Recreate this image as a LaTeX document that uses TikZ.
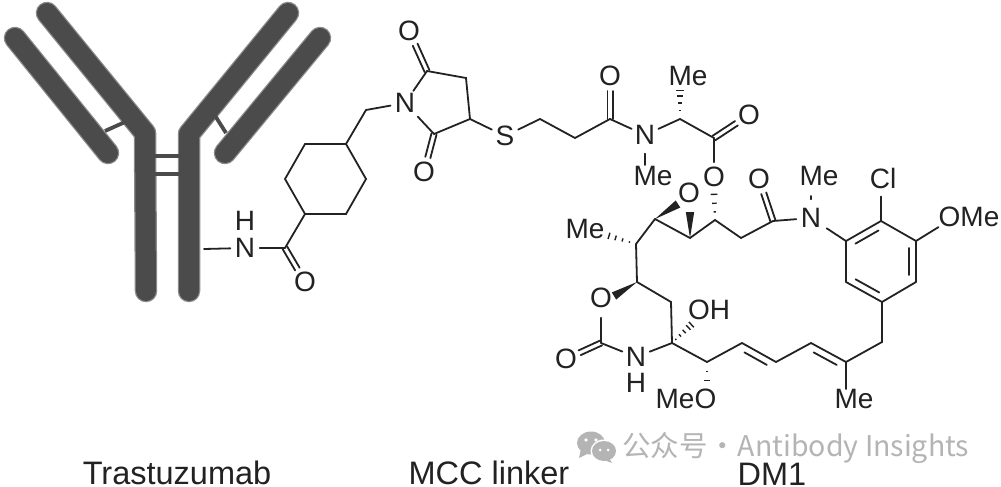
\documentclass[tikz,border=0pt]{standalone}
\usepackage{fontspec}
\setmainfont{Liberation Sans}
\newfontfamily\wmfont{Noto Sans CJK SC}
\usetikzlibrary{calc}
\definecolor{ink}{HTML}{222222}
\definecolor{abody}{HTML}{4B4B4B}
\definecolor{abedge}{HTML}{8C8C8C}
\definecolor{wm}{HTML}{B4B4B4}
\tikzset{
  bond/.style={draw=ink,line width=1.8pt,line cap=round,line join=miter},
  hashline/.style={draw=ink,line width=1.4pt},
  atom/.style={circle,inner sep=0pt,minimum size=29pt,text=ink,font=\fontsize{28}{30}\selectfont},
  lab/.style={inner sep=0pt,text=ink,font=\fontsize{28}{30}\selectfont},
  caption/.style={inner sep=0pt,anchor=base,text=ink,font=\fontsize{32.5}{34}\selectfont},
  abedgeline/.style={draw=abedge,line width=22.5pt,line cap=round,line join=round},
  abline/.style={draw=abody,line width=20pt,line cap=round,line join=round},
  hinge/.style={draw=abody,line width=3.8pt}
}
\newcommand{\dblO}[2]{%
  \draw[bond] ($(#1)!2.6pt!90:(#2)$) -- ($($(#2)!15pt!(#1)$)!2.6pt!-90:(#1)$);
  \draw[bond] ($(#1)!2.6pt!-90:(#2)$) -- ($($(#2)!15pt!(#1)$)!2.6pt!90:(#1)$);}
\newcommand{\dblIn}[4]{%
  \draw[bond] (#1) -- (#2);
  \draw[bond] ($(#1)!.17!(#2)!7pt!#3:(#2)$) -- ($(#2)!.17!(#1)!7pt!#4:(#1)$);}
\newcommand{\hashb}[3]{%
  \foreach \t in {#3} {
    \coordinate (hp) at ($(#1)!\t!(#2)$);
    \draw[hashline] ($(hp)!{\t*3.6pt}!90:(#2)$) -- ($(hp)!{\t*3.6pt}!-90:(#2)$);
  }}
\newcommand{\wedgeb}[2]{%
  \fill[ink] (#1) -- ($(#2)!4.2pt!90:(#1)$) -- ($(#2)!4.2pt!-90:(#1)$) -- cycle;}
\begin{document}
\begin{tikzpicture}[x=1pt,y=-1pt]
\useasboundingbox (0,0) rectangle (1001,487);
\fill[white] (0,0) rectangle (1001,487);

% antibody
\coordinate (loa) at (15,38); \coordinate (lob) at (108,153);
\coordinate (lia) at (47,13); \coordinate (lib) at (145,133); \coordinate (lic) at (146,291);
\coordinate (roa) at (320,38); \coordinate (rob) at (225,153);
\coordinate (ria) at (288,13); \coordinate (rib) at (189,134); \coordinate (ric) at (189,291);
\foreach \st in {abedgeline,abline}{
  \draw[\st] (loa) -- (lob);
  \draw[\st] (lia) -- (lib) -- (lic);
  \draw[\st] (roa) -- (rob);
  \draw[\st] (ria) -- (rib) -- (ric);
}
\coordinate (h1a) at (155,156); \coordinate (h1b) at (180,156);
\coordinate (h2a) at (155,174); \coordinate (h2b) at (180,174);
\coordinate (h3a) at (105,131); \coordinate (h3b) at (125,122);
\coordinate (h4a) at (214,114); \coordinate (h4b) at (226,133);
\draw[hinge] (h1a) -- (h1b);
\draw[hinge] (h2a) -- (h2b);
\draw[hinge] (h3a) -- (h3b);
\draw[hinge] (h4a) -- (h4b);

% carbons
\foreach \n/\p in {
  ab/{204,249}, ca/{285,248}, cy1/{305,214}, cy2/{285,179}, cy3/{305,144}, cy4/{346,144},
  cy5/{366,179}, cy6/{346,214}, mch/{366,110}, sa/{427,71}, sb/{466,78}, sc/{470,119}, sd/{434,134},
  ta/{540,119}, tb/{575,138}, tc/{610,119}, ala/{680,119}, alc/{714,138},
  e1/{655,219}, e2/{690,238}, e3/{715,220}, f1/{741,238}, f2/{773,221},
  g1/{636,244}, g2/{637,282}, g3/{671,302}, g4/{672,343}, g5/{707,362},
  v1/{742,343}, v2/{776,362}, v3/{811,343}, v4/{846,362}, v5/{882,342},
  r1/{882,302}, r2/{916,282}, r3/{916,241}, r4/{881,221}, r5/{846,241}, r6/{846,282},
  u1/{601,343}}{
  \coordinate (\n) at (\p);
}

% labelled atoms
\node[atom] (nha) at (245,248) {N};
\node[lab]  (hha) at (245,221) {H};
\node[atom] (oam) at (305,282) {O};
\node[atom] (nim) at (405,103) {N};
\node[atom] (oim1) at (409,31) {O};
\node[atom] (oim2) at (424,172) {O};
\node[atom] (sul) at (505,136) {S};
\node[atom] (oa2) at (610,76) {O};
\node[atom] (nme) at (645,135) {N};
\node[lab]  (me1) at (653,176) {Me};
\node[lab]  (me2) at (688,76) {Me};
\node[atom] (oe1) at (749,115) {O};
\node[atom] (oe2) at (714,177) {O};
\node[atom] (oep) at (689,193) {O};
\node[atom] (ok) at (759,179) {O};
\node[lab]  (me3) at (585,229) {Me};
\node[atom] (oc) at (601,298) {O};
\node[atom] (ocb) at (566,359) {O};
\node[atom] (ncb) at (636,357) {N};
\node[lab]  (hcb) at (636,383) {H};
\node[lab]  (oh) at (709,310) {OH};
\node[lab]  (meo) at (686,399) {MeO};
\node[lab]  (me4) at (854,399) {Me};
\node[atom] (nar) at (811,218) {N};
\node[lab]  (me5) at (819,176) {Me};
\node[lab]  (cl) at (883,178) {Cl};
\node[lab]  (ome) at (969,217) {OMe};

% bonds: linker
\draw[bond] (ab) -- (nha);
\draw[bond] (nha) -- (ca);
\dblO{ca}{oam}
\draw[bond] (ca) -- (cy1) -- (cy2) -- (cy3) -- (cy4) -- (cy5) -- (cy6) -- (cy1);
\draw[bond] (cy4) -- (mch) -- (nim);
\draw[bond] (nim) -- (sa) -- (sb) -- (sc) -- (sd);
\draw[bond,shorten <=4pt] (nim) -- (sd);
\dblO{sa}{oim1}
\dblO{sd}{oim2}
\draw[bond] (sc) -- (sul);
\draw[bond] (sul) -- (ta) -- (tb) -- (tc);
\dblO{tc}{oa2}
\draw[bond] (tc) -- (nme);
\draw[bond] (nme) -- (ala) -- (alc);
\draw[bond,shorten <=4pt,shorten >=1pt] (nme) -- (me1.north -| nme);
\dblO{alc}{oe1}
\draw[bond] (alc) -- (oe2);
\coordinate (hme2) at (680,90);
\hashb{ala}{hme2}{.3,.55,.8,.98}
\coordinate (hoe) at (714,193);
\hashb{e3}{hoe}{.3,.62,.95}

% bonds: DM1
\draw[bond] (g1) -- (e1) -- (e2) -- (e3) -- (f1) -- (f2);
\coordinate (weo) at (678,204); \coordinate (weo2) at (690,212);
\wedgeb{e1}{weo}
\wedgeb{e2}{weo2}
\dblO{f2}{ok}
\draw[bond] (f2) -- (nar);
\draw[bond,shorten <=4pt] (nar) -- (r5);
\draw[bond,shorten <=4pt,shorten >=10pt] (nar) -- (me5.south -| nar);
\dblIn{r5}{r4}{-90}{90}
\draw[bond] (r4) -- (r3);
\dblIn{r3}{r2}{-90}{90}
\draw[bond] (r2) -- (r1);
\dblIn{r1}{r6}{-90}{90}
\draw[bond] (r6) -- (r5);
\draw[bond,shorten >=8pt] (r4) -- (cl.south -| r4);
\draw[bond] (r3) -- (ome.south west);
\draw[bond] (r1) -- (v5) -- (v4);
\dblIn{v4}{v3}{90}{-90}
\draw[bond] (v3) -- (v2);
\dblIn{v2}{v1}{90}{-90}
\draw[bond] (v1) -- (g5) -- (g4) -- (g3) -- (g2) -- (g1);
\draw[bond] (v4) -- (me4.north -| v4);
\coordinate (hme3) at (606,235);
\hashb{g1}{hme3}{.22,.45,.68,.9}
\coordinate (weo3) at (614,296);
\wedgeb{g2}{weo3}
\coordinate (hoh) at (691,325);
\hashb{g4}{hoh}{.2,.42,.64,.86,1.02}
\coordinate (hmeo) at (707,385);
\hashb{g5}{hmeo}{.4,.8}
\draw[bond] (g4) -- (ncb);
\draw[bond] (ncb) -- (u1);
\draw[bond,shorten <=5pt] (oc) -- (u1);
\dblO{u1}{ocb}

% captions
\node[caption] (captr) at (177,484) {Trastuzumab};
\node[caption] (capmcc) at (489,484) {MCC linker};
\node[caption] (capdm) at (772,485) {DM1};

% watermark
\fill[wm] (591,443) ellipse [x radius=14,y radius=11.5];
\fill[wm] (581,449) -- (579,458) -- (589,453) -- cycle;
\fill[white] (604,451) ellipse [x radius=13.5,y radius=11.5];
\fill[wm] (604,451) ellipse [x radius=12,y radius=10];
\fill[wm] (609,458) -- (612,463) -- (604,460) -- cycle;
\fill[white] (586,440) circle (1.8) (596,440) circle (1.8) (600,450) circle (1.5) (608,450) circle (1.5);
\node[inner sep=0pt,anchor=west,text=wm,font=\wmfont\fontsize{28.5}{30}\selectfont] (wmk) at (622,448) {公众号\hspace{-5.5pt} · \hspace{-5.5pt}Antibody Insights};
\end{tikzpicture}
\end{document}
